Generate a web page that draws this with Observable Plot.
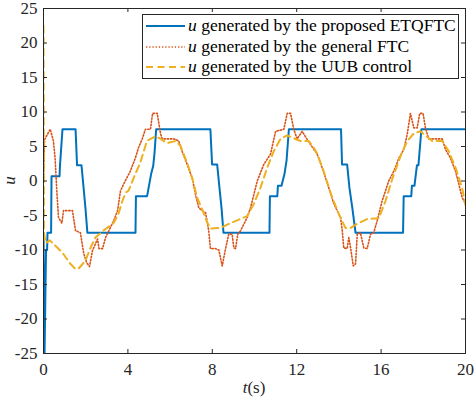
<!DOCTYPE html>
<html>
<head>
<meta charset="utf-8">
<script src="https://cdn.jsdelivr.net/npm/d3@7"></script>
<script src="https://cdn.jsdelivr.net/npm/@observablehq/plot@0.6"></script>
<style>
  html, body { margin: 0; padding: 0; background: #fff; }
  #chart { width: 474px; height: 398px; }
</style>
</head>
<body>
<div id="chart"></div>
<script>
// ---- data (t in seconds, u) ----
const xTicks = [0, 4, 8, 12, 16, 20];
const yTicks = [-25, -20, -15, -10, -5, 0, 5, 10, 15, 20, 25];

const legendLabels = [
  "generated by the proposed ETQFTC",
  "generated by the general FTC",
  "generated by the UUB control"
];

const blueETQFTC = [
  [0,-7.5],[0.05,-25],[0.12,-10],[0.17,-10],[0.19,-7.5],[0.36,-7.5],[0.38,0.7],[0.76,0.7],
  [0.78,2.2],[0.9,7.5],[1.52,7.5],[1.59,2.3],[1.8,2.3],[1.9,-1],[1.99,-4],[2.08,-7.5],
  [4.36,-7.5],[4.38,-2.2],[4.91,-2.2],[5.1,1],[5.2,2.2],[5.26,4],[5.34,7.5],
  [7.91,7.5],[7.99,2.4],[8.23,2.4],[8.34,-1],[8.44,-4],[8.53,-7.5],
  [10.71,-7.5],[10.73,-2.2],[11.08,-2.2],[11.11,-0.7],[11.28,-0.7],[11.42,1],[11.52,3],[11.63,7.5],
  [14.1,7.5],[14.15,2.4],[14.39,2.4],[14.5,-1],[14.64,-4],[14.79,-7.5],
  [17.04,-7.5],[17.07,-2.2],[17.43,-2.2],[17.46,-0.7],[17.58,-0.7],[17.7,2.3],[17.77,2.3],[17.91,7.5],
  [20,7.5]
];

const redFTC = [
  [0,0],[0.05,6],[0.32,7.5],[0.47,5.8],[0.55,3.3],[0.63,-1.4],[0.71,-5.3],[0.87,-6.1],[0.95,-4.3],
  [1.37,-4.3],[1.52,-7.2],[1.75,-7.5],[1.9,-10.4],[2.04,-11.8],[2.18,-12.4],[2.32,-10.1],[2.56,-8.4],
  [2.63,-9.8],[2.8,-9.8],[2.94,-8.2],[3.32,-5.8],[3.51,-4.3],[3.65,-1.4],[3.87,0],[4.11,1.4],
  [4.35,3.3],[4.5,4.8],[4.69,6.2],[4.83,7.5],[5.07,7.5],[5.17,9.8],[5.39,9.8],[5.55,6.8],[5.63,6.1],
  [6.18,6.1],[6.41,5.8],[6.57,4.3],[6.81,2.4],[7.05,0.4],[7.2,-1.9],[7.36,-3.9],[7.52,-4.3],
  [7.68,-4.6],[7.83,-7.2],[7.91,-9.8],[8.15,-9.8],[8.31,-10],[8.47,-12.3],[8.63,-9.8],[8.78,-7.7],
  [8.94,-7.7],[9.02,-9.7],[9.1,-9.8],[9.21,-7.7],[9.34,-7.2],[9.65,-5.3],[9.81,-3.9],[10.13,0],
  [10.44,2.4],[10.76,3.9],[11,7.2],[11.39,7.5],[11.55,9.8],[11.71,9.8],[11.86,7.5],[12.02,6.1],
  [12.26,7.2],[12.42,6.4],[12.65,5.3],[12.97,3.9],[13.21,1.9],[13.52,-1],[13.76,-3.3],[13.92,-4.3],
  [14.08,-5.3],[14.16,-7.2],[14.23,-9.7],[14.39,-9.8],[14.47,-8.2],[14.55,-9.6],[14.68,-12.3],
  [14.79,-12],[14.87,-7.7],[15.02,-7.5],[15.18,-9.7],[15.34,-9.8],[15.5,-7.7],[15.65,-7.5],
  [15.81,-5.8],[16.05,-2.9],[16.36,0],[16.6,1.4],[16.84,3.3],[17.08,4.6],[17.24,6.8],[17.39,9.8],
  [17.55,7.7],[17.71,7.7],[17.83,9.8],[17.99,9.8],[18.1,7.7],[18.26,6.1],[18.9,6.1],[19.05,4.6],
  [19.29,3.3],[19.53,1.4],[19.68,-0.4],[19.84,-2.4],[20,-3.3]
];

const yellowUUB = [
  [0,22.5],[0.02,-7.5],[0.1,-9],[0.3,-8.6],[0.4,-8.9],[0.9,-10.4],[1.27,-12],[1.5,-12.7],
  [1.66,-12.7],[1.98,-11.6],[2.21,-9.8],[2.46,-8.2],[2.84,-7.2],[3.32,-6.1],[3.55,-4.8],
  [3.74,-2.9],[3.89,-1.7],[4.03,-1.4],[4.35,1],[4.58,2.6],[4.9,5.8],[5.31,6.5],[5.55,6.1],
  [5.86,5.5],[6.26,5.8],[6.49,5.1],[6.81,2.6],[7.05,0.4],[7.28,-2.4],[7.52,-4.1],[7.76,-6],
  [7.91,-6.9],[8.39,-6.8],[8.86,-6.1],[9.34,-5.5],[9.65,-5.1],[9.97,-3.3],[10.28,-1],[10.6,1.9],
  [10.91,4.3],[11.23,6.1],[11.55,6.6],[11.86,6.2],[12.18,5.8],[12.57,5.8],[12.81,4.8],[12.97,4],
  [13.28,1.4],[13.68,-2.4],[14,-4.8],[14.31,-6.8],[14.55,-6.8],[14.71,-6.5],[14.94,-6.1],
  [15.34,-5.5],[15.89,-5.4],[16.21,-2.9],[16.53,0.3],[16.92,3.6],[17.24,5.8],[17.55,6.9],
  [17.87,7.2],[18.1,6.6],[18.42,5.8],[18.9,5.8],[19.21,4.3],[19.53,1.9],[19.84,-1],[20,-3.5]
];

// ---- styles ----
const C_BLUE = "#0072BD", C_RED = "#D95319", C_YEL = "#EDB120", C_AX = "#262626";
const FONT = "Liberation Serif, DejaVu Serif, serif";

const toRows = arr => arr.map(([t, u]) => ({t, u}));
const innerTicksX = xTicks.slice(1, -1);
const innerTicksY = yTicks.slice(1, -1);

const W = 474, H = 398, ML = 43, MR = 9, MT = 8, MB = 45;
const PW = W - ML - MR, PH = H - MT - MB;
const TL = 4;

const chart = Plot.plot({
  width: W, height: H,
  marginLeft: ML, marginRight: MR, marginTop: MT, marginBottom: MB,
  style: {fontFamily: FONT, fontSize: "17px", color: "#262626", background: "white", overflow: "visible"},
  x: {domain: [0, 20]},
  y: {domain: [-25, 25]},
  marks: [
    Plot.line(toRows(blueETQFTC), {x: "t", y: "u", stroke: C_BLUE, strokeWidth: 2, clip: true}),
    Plot.line(toRows(redFTC), {x: "t", y: "u", stroke: C_RED, strokeWidth: 1.6, strokeDasharray: "1.3,1.9", clip: true}),
    Plot.line(toRows(yellowUUB), {x: "t", y: "u", stroke: C_YEL, strokeWidth: 2, strokeDasharray: "7,4.5", clip: true}),
    Plot.frame({stroke: C_AX, strokeWidth: 1}),
    // inward ticks (bottom/top, left/right)
    Plot.tickX(innerTicksX, {x: d => d, insetTop: PH - TL, stroke: C_AX}),
    Plot.tickX(innerTicksX, {x: d => d, insetBottom: PH - TL, stroke: C_AX}),
    Plot.tickY(innerTicksY, {y: d => d, insetRight: PW - TL, stroke: C_AX}),
    Plot.tickY(innerTicksY, {y: d => d, insetLeft: PW - TL, stroke: C_AX}),
    Plot.axisX({ticks: xTicks, tickSize: 0, tickPadding: 9, tickFormat: d => String(d), label: null, fill: "#262626"}),
    Plot.axisY({ticks: yTicks, tickSize: 0, tickPadding: 6, tickFormat: d => String(d), label: null, fill: "#262626"})
  ]
});
document.getElementById("chart").appendChild(chart);

// ---- annotations: axis labels and legend ----
const svg = d3.select(chart);
// x label  t(s)
const xl = svg.append("text")
  .attr("x", ML + PW / 2).attr("y", 393)
  .attr("text-anchor", "middle")
  .attr("font-family", FONT).attr("font-size", 17).attr("fill", "#262626");
xl.append("tspan").attr("font-style", "italic").text("t");
xl.append("tspan").text("(s)");
// y label  u
svg.append("text")
  .attr("transform", `translate(15,${MT + PH / 2}) rotate(-90)`)
  .attr("text-anchor", "middle")
  .attr("font-family", FONT).attr("font-size", 17).attr("font-style", "italic")
  .attr("fill", "#262626").text("u");

// legend
const lg = svg.append("g").attr("text-anchor", "start");
lg.append("rect").attr("x", 142.5).attr("y", 14.5).attr("width", 316).attr("height", 64)
  .attr("fill", "white").attr("stroke", C_AX).attr("stroke-width", 1);
const rowsY = [26, 47, 67];
const styles = [
  {stroke: C_BLUE, w: 2, dash: null},
  {stroke: C_RED, w: 1.6, dash: "1.3,1.9"},
  {stroke: C_YEL, w: 2, dash: "7,4.5"}
];
legendLabels.forEach((lab, i) => {
  const s = styles[i];
  const ln = lg.append("line").attr("x1", 146).attr("x2", 185).attr("y1", rowsY[i]).attr("y2", rowsY[i])
    .attr("stroke", s.stroke).attr("stroke-width", s.w);
  if (s.dash) ln.attr("stroke-dasharray", s.dash);
  const tx = lg.append("text").attr("x", 188).attr("y", rowsY[i] + 5)
    .attr("text-anchor", "start")
    .attr("font-family", FONT).attr("font-size", 17.5).attr("fill", "#000");
  tx.append("tspan").attr("font-style", "italic").text("u");
  tx.append("tspan").text(" " + lab);
});
</script>
</body>
</html>
